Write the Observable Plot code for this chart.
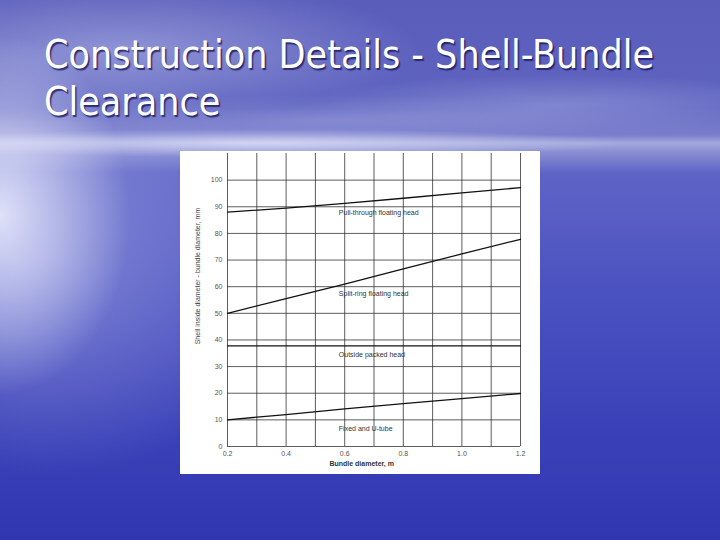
<!DOCTYPE html>
<html>
<head>
<meta charset="utf-8">
<script src="https://cdn.jsdelivr.net/npm/d3@7"></script>
<script src="https://cdn.jsdelivr.net/npm/@observablehq/plot@0.6"></script>
<style>
  html, body { margin: 0; padding: 0; }
  body {
    width: 720px; height: 540px; position: relative; overflow: hidden;
    background:
      radial-gradient(ellipse 130px 180px at 0px 215px, rgba(240,242,255,0.85), rgba(240,242,255,0) 100%),
      radial-gradient(ellipse 260px 220px at 40px 260px, rgba(170,175,230,0.55), rgba(170,175,230,0) 100%),
      radial-gradient(ellipse 380px 14px at 250px 143px, rgba(225,228,250,0.75), rgba(225,228,250,0) 100%),
      radial-gradient(ellipse 300px 70px at 120px 50px, rgba(185,190,235,0.55), rgba(185,190,235,0) 100%),
      radial-gradient(ellipse 260px 30px at 560px 105px, rgba(170,175,228,0.45), rgba(170,175,228,0) 100%),
      radial-gradient(ellipse 300px 25px at 330px 120px, rgba(170,175,228,0.4), rgba(170,175,228,0) 100%),
      linear-gradient(to bottom, #5a5dba 0%, #5f64c0 20%, #7a7ecc 25%, #a4a8dc 26.5%, #8c90d4 28%, #5e64c6 32%, #4a51c0 55%, #3a41b8 80%, #2f36b0 100%);
  }
  #title {
    position: absolute; left: 44px; top: 31px;
    font-family: "DejaVu Sans Condensed", "DejaVu Sans", sans-serif;
    font-stretch: condensed;
    font-size: 39px; line-height: 47px; color: #fff;
    text-shadow: 1.5px 1.5px 1px rgba(25,25,90,0.8);
  }
  #chart {
    position: absolute; left: 180px; top: 151px; width: 360px; height: 323px;
    background: #fff;
  }
</style>
</head>
<body>
<div id="title">Construction Details - Shell-Bundle<br>Clearance</div>
<div id="chart"></div>
<script>
// Data
const bundleDiameter = [0.2, 0.4, 0.6, 0.8, 1.0, 1.2];
const pullThrough    = [88, 89.5, 91.3, 93.2, 95.2, 97.2];
const splitRing      = [50, 55.5, 61, 66.7, 72.3, 77.8];
const outsidePacked  = [37.8, 37.8, 37.8, 37.8, 37.8, 37.8];
const fixedUtube     = [10, 12, 14.1, 16.1, 18, 19.9];

const seriesNames = ["Pull-through floating head", "Split-ring floating head", "Outside packed head", "Fixed and U-tube"];
const seriesValues = [pullThrough, splitRing, outsidePacked, fixedUtube];
const labelX = [0.58, 0.58, 0.58, 0.58];
const labelY = [87.6, 57.4, 34.3, 6.7];

const xTicks = [0.2, 0.4, 0.6, 0.8, 1.0, 1.2];
const xGrid = d3.range(2, 13).map(d => d / 10);
const yTicks = d3.range(0, 101, 10);

const lines = seriesNames.flatMap((name, i) =>
  bundleDiameter.map((x, j) => ({series: name, x, y: seriesValues[i][j]})));
const labels = seriesNames.map((name, i) => ({name, x: labelX[i], y: labelY[i]}));

const font = "Liberation Sans, Arial, sans-serif";

const chart = Plot.plot({
  width: 360,
  height: 323,
  marginLeft: 47,
  marginRight: 20,
  marginTop: 2,
  marginBottom: 28,
  style: {fontFamily: font, fontSize: "7px", background: "#fff", color: "#444"},
  x: {domain: [0.2, 1.2], ticks: xTicks, tickFormat: d3.format(".1f"), label: null},
  y: {domain: [0, 110], ticks: yTicks, label: null},
  marks: [
    Plot.ruleX(xGrid, {y1: 0, y2: 110, stroke: "#2a2a2a", strokeWidth: 0.9, strokeOpacity: 0.85}),
    Plot.ruleY(yTicks, {x1: 0.2, x2: 1.2, stroke: "#2a2a2a", strokeWidth: 0.9, strokeOpacity: 0.85}),
    Plot.axisX({ticks: xTicks, tickFormat: d3.format(".1f"), tickSize: 0, tickPadding: 5, label: null, fill: "#555"}),
    Plot.axisY({ticks: yTicks, tickSize: 0, tickPadding: 5, label: null, fill: "#555"}),
    Plot.line(lines, {x: "x", y: "y", z: "series", stroke: "#111", strokeWidth: 1.3}),
    Plot.text(labels, {x: "x", y: "y", text: "name", textAnchor: "start", fill: "#333", fontSize: 7}),
    Plot.text(["Bundle diameter, m"], {x: 0.658, frameAnchor: "bottom", dy: 19, text: d => d, fontWeight: "bold", fill: "#333", fontSize: 7}),
    Plot.text(["Shell inside diameter - bundle diameter, mm"], {y: 64, frameAnchor: "left", textAnchor: "middle", dx: -30, rotate: -90, text: d => d, fill: "#444", fontSize: 7})
  ]
});
document.getElementById("chart").append(chart);
</script>
</body>
</html>
